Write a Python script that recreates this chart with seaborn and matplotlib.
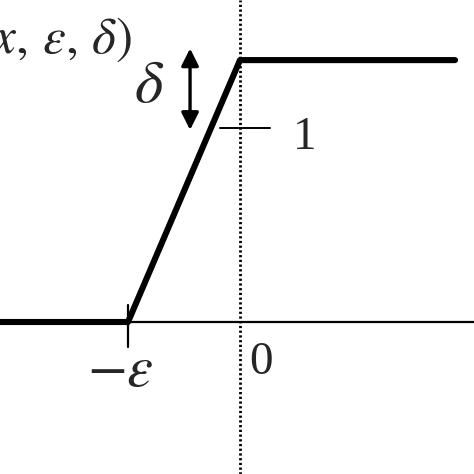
import matplotlib
matplotlib.use("Agg")
import matplotlib.pyplot as plt
import seaborn as sns
import pandas as pd

# ── Data ──────────────────────────────────────────────────────────────────────
EPS   = 1.0
DELTA = 0.35
x_pts = [-2.15, -EPS, 0.0, 1.92]
y_pts = [0.0, 0.0, 1.0 + DELTA, 1.0 + DELTA]

sns.set_theme(style="white")
plt.rcParams["font.family"] = ["Liberation Serif", "DejaVu Serif"]
plt.rcParams["mathtext.fontset"] = "stix"

df = pd.DataFrame({"x": x_pts, "y": y_pts})

fig = plt.figure(figsize=(4.74, 4.74), dpi=100)
ax = fig.add_axes([0, 0, 1, 1])
ax.set_xlim(-240 / 112, 234 / 112)
ax.set_ylim(-152 / 194, 322 / 194)
ax.axis("off")

# axes: horizontal line and dotted vertical at x=0
ax.axhline(0, color="black", lw=1.6, zorder=1)
ax.axvline(0, color="black", lw=2.0, ls=(0, (0.8, 0.9)), zorder=1)

# the ramp function
sns.lineplot(data=df, x="x", y="y", color="black", lw=4.4,
             sort=False, estimator=None, ax=ax, zorder=3)

# ticks at -eps and 1
ax.plot([-EPS, -EPS], [0.088, -0.13], color="black", lw=1.6)
ax.plot([-0.18, 0.27], [1.0, 1.0], color="black", lw=1.4)

# delta double arrow
ax.annotate("", xy=(-0.446, 0.99), xytext=(-0.446, 1.41),
            arrowprops=dict(arrowstyle="<|-|>", color="black", lw=2.4,
                            mutation_scale=26, shrinkA=0, shrinkB=0))
ax.text(-0.81, 1.21, r"$\delta$", fontsize=44, ha="center", va="center")

# labels
ax.text(-1.07, -0.26, r"$-\varepsilon$", fontsize=42, ha="center", va="center")
ax.text(0.19, -0.21, "0", fontsize=34, ha="center", va="center")
ax.text(0.58, 0.95, "1", fontsize=34, ha="center", va="center")
ax.text((132 - 240) / 112, (322 - 40) / 194, r"$f(x,\,\varepsilon,\,\delta)$",
        fontsize=37, ha="right", va="center")

fig.savefig("out.png", dpi=100)
